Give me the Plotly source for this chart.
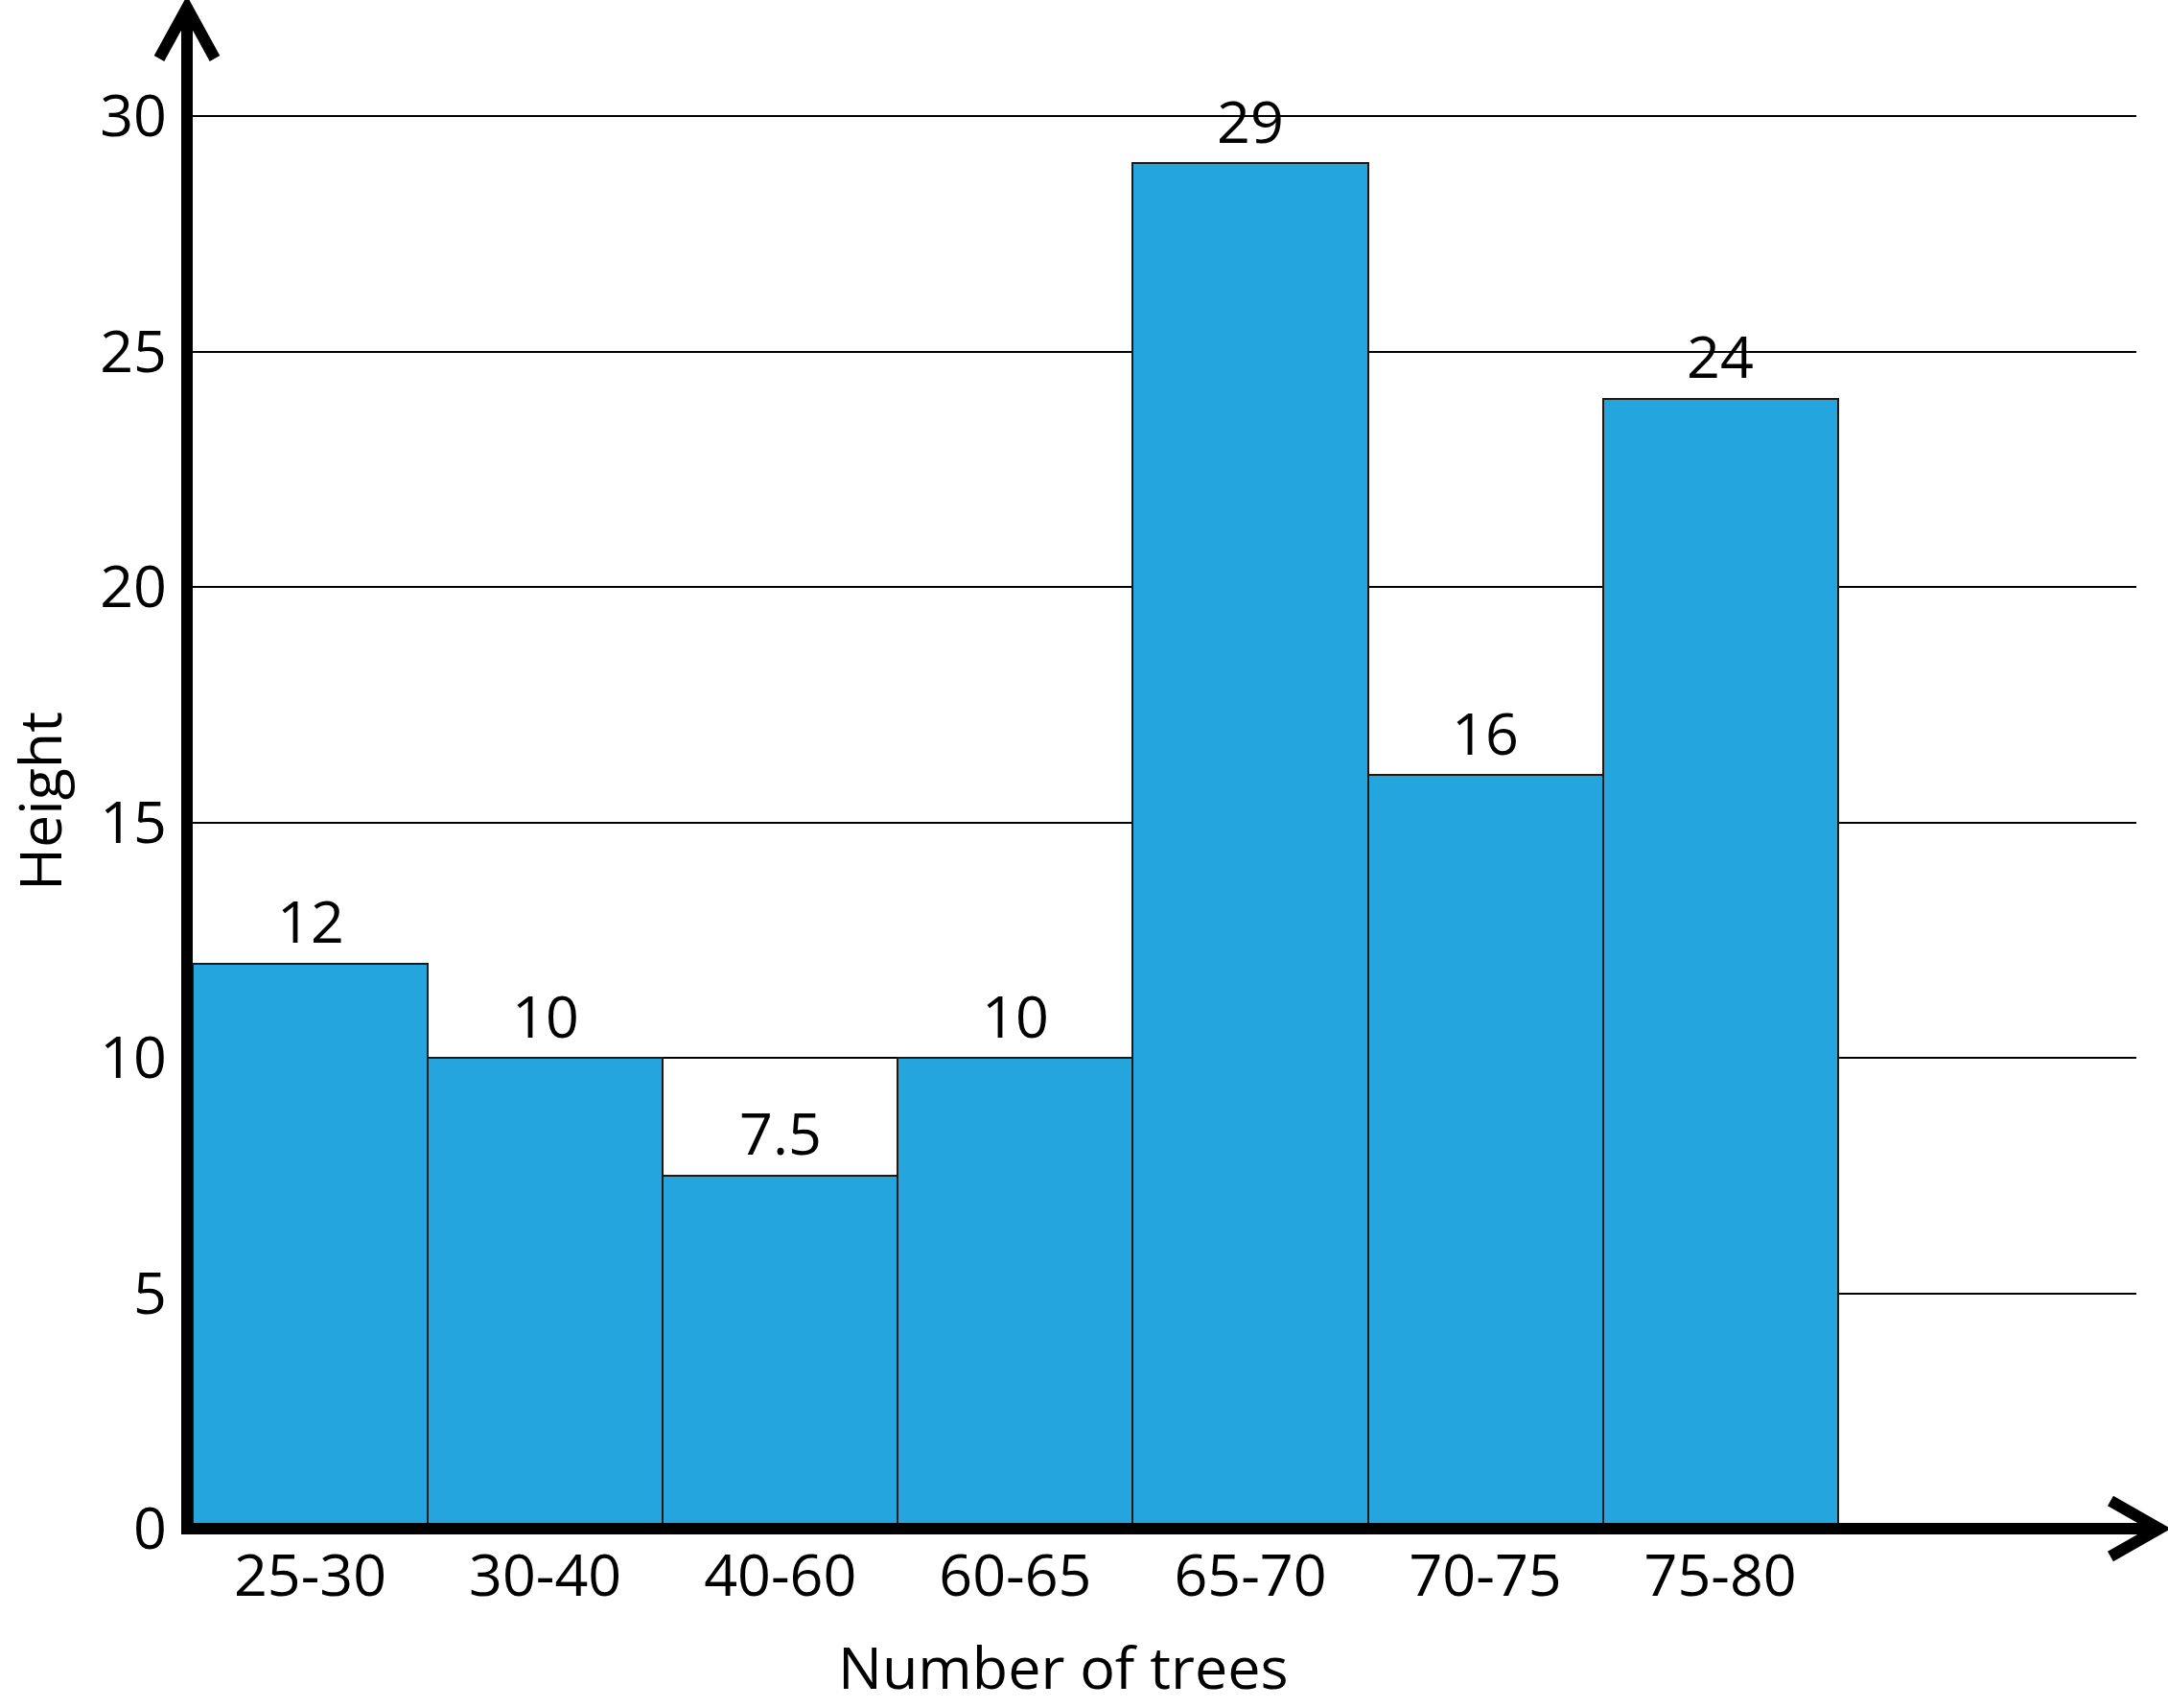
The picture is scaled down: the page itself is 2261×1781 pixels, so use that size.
import plotly.graph_objects as go

# data
classes = ["25-30", "30-40", "40-60", "60-65", "65-70", "70-75", "75-80"]
heights = [12, 10, 7.5, 10, 29, 16, 24]
y_ticks = [0, 5, 10, 15, 20, 25, 30]

# page geometry (pixels)
W_PAGE, H_PAGE = 2261, 1781
L, R, T, B = 195, 2228, 60, 1594   # plot area edges
PW, PH = R - L, B - T

def px(xp):
    return (xp - L) / PW

def py(yp):
    return (B - yp) / PH

FONT = "Open Sans"
BLUE = "#25a5dd"

fig = go.Figure()

fig.add_trace(go.Bar(
    x=classes,
    y=heights,
    width=1,
    marker=dict(color=BLUE, line=dict(color="#1a1a1a", width=2)),
    hoverinfo="x+y",
))

# value labels above the bars
for c, h in zip(classes, heights):
    fig.add_annotation(x=c, y=h, text=f"{h:g}", showarrow=False,
                       yanchor="middle", yshift=45,
                       font=dict(family=FONT, size=61, color="black"))

# axis lines with open arrow heads
axis_line = dict(color="black", width=12)
fig.add_shape(type="line", xref="paper", yref="paper",
              x0=px(189), x1=px(2252), y0=py(B), y1=py(B), line=axis_line)
fig.add_shape(type="line", xref="paper", yref="paper",
              x0=0, x1=0, y0=py(1600), y1=py(6), line=axis_line)
fig.add_shape(type="path", xref="paper", yref="paper",
              path=f"M{px(2201)},{py(1565)} L{px(2252)},{py(B)} L{px(2201)},{py(1623)}",
              line=axis_line)
fig.add_shape(type="path", xref="paper", yref="paper",
              path=f"M{px(166)},{py(61)} L{px(L)},{py(8)} L{px(224)},{py(61)}",
              line=axis_line)

# axis titles
fig.add_annotation(xref="paper", yref="paper", x=px(1108), y=py(1738),
                   text="Number of trees", showarrow=False, borderpad=0,
                   xanchor="center", yanchor="middle",
                   font=dict(family=FONT, size=61, color="black"))
fig.add_annotation(xref="paper", yref="paper", x=px(40), y=py(836),
                   text="Height", showarrow=False, textangle=-90,
                   xanchor="center", yanchor="middle",
                   font=dict(family=FONT, size=61, color="black"))

fig.update_layout(
    width=W_PAGE,
    height=H_PAGE,
    margin=dict(l=L, r=W_PAGE - R, t=T, b=H_PAGE - B, pad=0),
    paper_bgcolor="white",
    plot_bgcolor="white",
    bargap=0,
    showlegend=False,
    font=dict(family=FONT, size=61, color="black"),
)

fig.update_xaxes(
    type="category",
    range=[-0.5245, 7.770],
    showgrid=False,
    showline=False,
    zeroline=False,
    ticks="",
    ticklabelstandoff=8,
    tickfont=dict(family=FONT, size=61, color="black"),
)

fig.update_yaxes(
    range=[0, PH / 49.1],
    tickvals=y_ticks,
    showgrid=True,
    gridcolor="black",
    gridwidth=2,
    showline=False,
    zeroline=False,
    ticks="",
    ticklabelstandoff=20,
    tickfont=dict(family=FONT, size=61, color="black"),
)

# drop the browser's default page margin so the figure fills the window
fig.write_html("out.html", config={"displayModeBar": False},
               post_script="document.body.style.margin = '0';")
